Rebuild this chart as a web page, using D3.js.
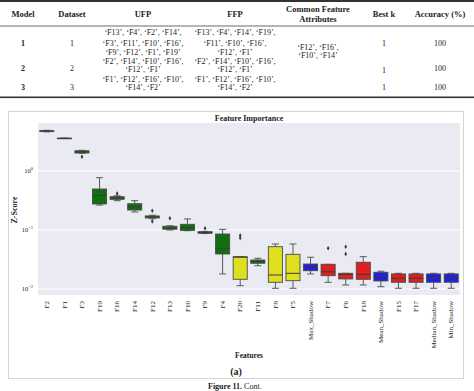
<!DOCTYPE html>
<html><head><meta charset="utf-8">
<script src="https://cdn.jsdelivr.net/npm/d3@7"></script>
<style>
html,body{margin:0;padding:0;background:#fff;}
svg{display:block;}
text{font-family:"Liberation Serif","Times New Roman",serif;fill:#222;}
</style></head>
<body>
<svg id="c" width="474" height="391"></svg>
<script>
// ---------- table data ----------
const tableHeaders = ["Model","Dataset","UFP","FFP",["Common Feature","Attributes"],"Best k","Accuracy (%)"];
const tableModels = ["1","2","3"];
const tableDatasets = ["1","2","3"];
const tableUFP = [
  ["‘F13’, ‘F4’, ‘F2’, ‘F14’,","‘F3’, ‘F11’, ‘F10’, ‘F16’,","‘F9’, ‘F12’, ‘F1’, ‘F19’"],
  ["‘F2’, ‘F14’, ‘F10’, ‘F16’,","‘F12’, ‘F1’"],
  ["‘F1’, ‘F12’, ‘F16’, ‘F10’,","‘F14’, ‘F2’"]
];
const tableFFP = [
  ["‘F13’, ‘F4’, ‘F14’, ‘F19’,","‘F11’, ‘F10’, ‘F16’,","‘F12’, ‘F1’"],
  ["‘F2’, ‘F14’, ‘F10’, ‘F16’,","‘F12’, ‘F1’"],
  ["‘F1’, ‘F12’, ‘F16’, ‘F10’,","‘F14’, ‘F2’"]
];
const tableCommon = ["‘F12’, ‘F16’,","‘F10’, ‘F14’"];
const tableBestK = ["1","1","1"];
const tableAccuracy = ["100","100","100"];

// ---------- chart data ----------
const features = ["F2","F1","F3","F19","F16","F14","F12","F13","F10","F9","F4","F20","F11","F8","F5","Max_Shadow","F7","F6","F18","Mean_Shadow","F15","F17","Median_Shadow","Min_Shadow"];
const decision = ["Accepted","Accepted","Accepted","Accepted","Accepted","Accepted","Accepted","Accepted","Accepted","Accepted","Accepted","Tentative","Accepted","Tentative","Tentative","Shadow","Rejected","Rejected","Rejected","Shadow","Rejected","Rejected","Shadow","Shadow"];
const whiskerLow = [4.6,3.55,2.0,0.265,0.314,0.202,0.155,0.1,0.0973,0.087,0.018,0.01137,0.0248,0.01028,0.01028,0.018,0.013,0.0117,0.0117,0.01094,0.01028,0.01028,0.01028,0.01028];
const q1 = [4.7,3.56,2.02,0.276,0.331,0.218,0.16,0.103,0.0985,0.088,0.0392,0.0146,0.0273,0.013,0.01383,0.0204,0.0168,0.0148,0.0146,0.01367,0.013,0.013,0.013,0.013];
const median = [4.76,3.58,2.1,0.385,0.348,0.248,0.166,0.108,0.109,0.0907,0.049,0.0345,0.0291,0.01726,0.01845,0.023,0.0196,0.0176,0.01775,0.0161,0.0152,0.0152,0.0155,0.0155];
const q3 = [4.82,3.6,2.2,0.495,0.367,0.279,0.173,0.1156,0.125,0.0936,0.0855,0.0353,0.031,0.0521,0.0387,0.0265,0.0262,0.01845,0.0284,0.0192,0.018,0.018,0.018,0.018];
const whiskerHigh = [4.9,3.62,2.24,0.77,0.38,0.314,0.178,0.118,0.154,0.095,0.1027,0.0353,0.0331,0.0579,0.0579,0.0345,0.0262,0.01845,0.0353,0.02,0.01845,0.01845,0.01845,0.01845];
const outliers = [[],[],[1.75],[],[0.416],[],[0.212,0.14],[0.158],[],[0.107],[],[0.0807,0.0732],[],[],[],[],[0.049],[0.0521,0.0392],[],[],[],[],[],[]];
const yTicks = [0.01,0.1,1];
const yTickExp = ["−2","−1","0"];
const decisionColors = {Accepted:"#107010",Tentative:"#dfdf20",Rejected:"#df2020",Shadow:"#2020df"};

const svg = d3.select("#c");

// ---------- table ----------
const colX = [23,72,143,235,318,384,440];
svg.append("rect").attr("x",0).attr("y",0).attr("width",474).attr("height",2).attr("fill","#333");
svg.append("line").attr("x1",0).attr("x2",474).attr("y1",26).attr("y2",26).attr("stroke","#444").attr("stroke-width",0.8);
svg.append("rect").attr("x",0).attr("y",96.5).attr("width",474).attr("height",1.6).attr("fill","#333");

const hdr = svg.append("g").attr("font-size",8.5).attr("font-weight","bold").attr("text-anchor","middle");
tableHeaders.forEach((h,i)=>{
  if(Array.isArray(h)){
    h.forEach((line,j)=>hdr.append("text").attr("x",colX[i]).attr("y",12+j*9.5).text(line));
  } else hdr.append("text").attr("x",colX[i]).attr("y",17).text(h);
});
const body = svg.append("g").attr("font-size",8).attr("text-anchor","middle");
const rowCenter = [42.7,68,87.3];
const rowLinesStart = [[32.3,42.5,51.7],[60.7,68.5],[79.3,87.3]];
tableModels.forEach((m,r)=>{
  body.append("text").attr("x",colX[0]).attr("y",rowCenter[r]+3).attr("font-weight","bold").text(m);
  body.append("text").attr("x",colX[1]).attr("y",rowCenter[r]+3).text(tableDatasets[r]);
  tableUFP[r].forEach((l,j)=>body.append("text").attr("x",colX[2]).attr("y",rowLinesStart[r][j]+3).text(l));
  tableFFP[r].forEach((l,j)=>body.append("text").attr("x",colX[3]).attr("y",rowLinesStart[r][j]+3).text(l));
  body.append("text").attr("x",colX[5]).attr("y",rowCenter[r]+3+(r===1?1.5:0)).text(tableBestK[r]);
  body.append("text").attr("x",colX[6]).attr("y",rowCenter[r]+3).text(tableAccuracy[r]);
});
tableCommon.forEach((l,j)=>body.append("text").attr("x",colX[4]).attr("y",46.5+j*8.5+3).text(l));

// ---------- chart frame ----------
svg.append("rect").attr("x",8.5).attr("y",111.5).attr("width",455).attr("height",267)
  .attr("fill","none").attr("stroke","#d4d4d4").attr("stroke-width",1);

const plot = {left:38,right:460,top:123,bottom:295};
svg.append("rect").attr("x",plot.left).attr("y",plot.top).attr("width",plot.right-plot.left)
  .attr("height",plot.bottom-plot.top).attr("fill","#eaeaf2");

const x = d3.scaleBand().domain(features).range([plot.left,plot.right]).paddingInner(0).paddingOuter(0);
const y = d3.scaleLog().domain([0.00791,6.51]).range([plot.bottom,plot.top]);

// grid
svg.append("g").selectAll("line").data(yTicks).join("line")
  .attr("x1",plot.left).attr("x2",plot.right)
  .attr("y1",d=>y(d)).attr("y2",d=>y(d)).attr("stroke","#fff").attr("stroke-width",1);

// y axis labels
const yAxis = d3.axisLeft(y).tickValues(yTicks).tickSize(0).tickPadding(0).tickFormat("");
const yg = svg.append("g").attr("transform",`translate(${plot.left},0)`).call(yAxis);
yg.select(".domain").remove();
yTicks.forEach((t,i)=>{
  const tx = svg.append("text").attr("x",33).attr("y",y(t)+2.5).attr("text-anchor","end").attr("font-size",6.5);
  tx.append("tspan").text("10");
  tx.append("tspan").attr("dy",-3).attr("font-size",4.5).text(yTickExp[i]);
});

// x axis labels
const xAxis = d3.axisBottom(x).tickSize(0).tickPadding(0);
const xg = svg.append("g").attr("transform",`translate(0,${plot.bottom})`).call(xAxis);
xg.select(".domain").remove();
xg.selectAll("text").attr("font-size",7).attr("fill","#222")
  .attr("font-family","Liberation Serif, serif")
  .attr("transform","rotate(-90)").attr("text-anchor","end")
  .attr("x",-6).attr("y",0).attr("dy","0.32em");

// boxes
const bw = x.bandwidth()*0.8;
const boxes = svg.append("g").selectAll("g").data(features).join("g")
  .attr("transform",d=>`translate(${x(d)+x.bandwidth()/2},0)`);
const lineCol = "#4a4a4a";
boxes.append("line").attr("x1",0).attr("x2",0)
  .attr("y1",(d,i)=>y(whiskerHigh[i])).attr("y2",(d,i)=>y(q3[i])).attr("stroke",lineCol).attr("stroke-width",0.9);
boxes.append("line").attr("x1",0).attr("x2",0)
  .attr("y1",(d,i)=>y(q1[i])).attr("y2",(d,i)=>y(whiskerLow[i])).attr("stroke",lineCol).attr("stroke-width",0.9);
boxes.append("line").attr("x1",-bw/4).attr("x2",bw/4)
  .attr("y1",(d,i)=>y(whiskerHigh[i])).attr("y2",(d,i)=>y(whiskerHigh[i])).attr("stroke",lineCol).attr("stroke-width",0.9);
boxes.append("line").attr("x1",-bw/4).attr("x2",bw/4)
  .attr("y1",(d,i)=>y(whiskerLow[i])).attr("y2",(d,i)=>y(whiskerLow[i])).attr("stroke",lineCol).attr("stroke-width",0.9);
boxes.append("rect").attr("x",-bw/2).attr("width",bw)
  .attr("y",(d,i)=>y(q3[i])).attr("height",(d,i)=>Math.max(0.6,y(q1[i])-y(q3[i])))
  .attr("fill",(d,i)=>decisionColors[decision[i]]).attr("stroke",lineCol).attr("stroke-width",0.9);
boxes.append("line").attr("x1",-bw/2).attr("x2",bw/2)
  .attr("y1",(d,i)=>y(median[i])).attr("y2",(d,i)=>y(median[i])).attr("stroke","#3a3a3a").attr("stroke-width",1);
boxes.each(function(d,i){
  d3.select(this).selectAll("path.o").data(outliers[i]).join("path").attr("class","o")
    .attr("d",d3.symbol(d3.symbolDiamond,6)())
    .attr("transform",v=>`translate(0,${y(v)})`).attr("fill","#333");
});

// titles
svg.append("text").attr("x",(plot.left+plot.right)/2).attr("y",121).attr("text-anchor","middle")
  .attr("font-size",8).attr("font-weight","bold").text("Feature Importance");
svg.append("text").attr("transform",`translate(17,${210}) rotate(-90)`).attr("text-anchor","middle")
  .attr("font-size",8).attr("font-weight","bold").text("Z-Score");
svg.append("text").attr("x",(plot.left+plot.right)/2).attr("y",358).attr("text-anchor","middle")
  .attr("font-size",7.5).attr("font-weight","bold").text("Features");
svg.append("text").attr("x",236).attr("y",375).attr("text-anchor","middle")
  .attr("font-size",10).attr("font-weight","bold").text("(a)");
const fig = svg.append("text").attr("x",208).attr("y",389).attr("font-size",8);
fig.append("tspan").attr("font-weight","bold").text("Figure 11.");
fig.append("tspan").text(" Cont.");
</script>
</body></html>
